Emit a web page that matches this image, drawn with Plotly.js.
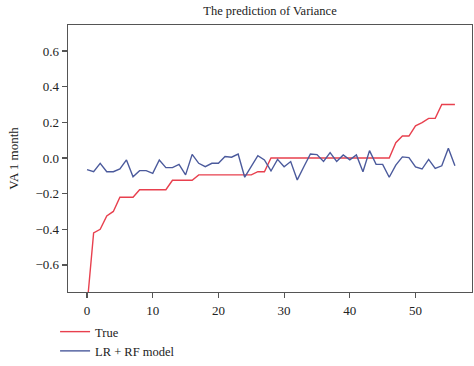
<!DOCTYPE html>
<html>
<head>
<meta charset="utf-8">
<script src="https://cdn.plot.ly/plotly-3.0.1.min.js"></script>
<style>html,body{margin:0;padding:0;background:#fff;}#chart{width:474px;height:366px;}</style>
</head>
<body>
<div id="chart"></div>
<script>
const xIndex = Array.from({length: 57}, (_, i) => i);
const trueValues = [
  -0.83, -0.42, -0.40, -0.325, -0.30, -0.22, -0.22, -0.22, -0.178, -0.178,
  -0.178, -0.178, -0.178, -0.125, -0.125, -0.125, -0.125, -0.095, -0.095, -0.095,
  -0.095, -0.095, -0.095, -0.095, -0.095, -0.095, -0.077, -0.077, 0, 0,
  0, 0, 0, 0, 0, 0, 0, 0, 0, 0,
  0, 0, 0, 0, 0, 0, 0, 0.086, 0.123, 0.123,
  0.18, 0.198, 0.222, 0.222, 0.30, 0.30, 0.30
];
const modelValues = [
  -0.065, -0.077, -0.03, -0.077, -0.077, -0.062, -0.011, -0.105, -0.071, -0.071,
  -0.086, -0.011, -0.054, -0.054, -0.036, -0.095, 0.02, -0.03, -0.049, -0.03,
  -0.03, 0.008, 0.004, 0.022, -0.108, -0.049, 0.013, -0.011, -0.073, -0.008,
  -0.049, -0.02, -0.123, -0.049, 0.022, 0.019, -0.02, 0.03, -0.02, 0.017,
  -0.011, 0.017, -0.077, 0.041, -0.036, -0.036, -0.108, -0.04, 0.006, 0.002,
  -0.05, -0.062, -0.008, -0.058, -0.044, 0.054, -0.044
];
const seriesNames = ['True', 'LR + RF model'];
const xTicks = [0, 10, 20, 30, 40, 50];
const yTicks = [-0.6, -0.4, -0.2, 0.0, 0.2, 0.4, 0.6];
const yTickLabels = ['\u22120.6', '\u22120.4', '\u22120.2', '0.0', '0.2', '0.4', '0.6'];

const font = 'Liberation Serif, DejaVu Serif, serif';
const traces = [
  {x: xIndex, y: trueValues, name: seriesNames[0], mode: 'lines', type: 'scatter',
   line: {color: '#e8404e', width: 1.4}},
  {x: xIndex, y: modelValues, name: seriesNames[1], mode: 'lines', type: 'scatter',
   line: {color: '#4b5a9c', width: 1.4}}
];
const axisCommon = {
  showgrid: false, zeroline: false, showline: true, mirror: true,
  linecolor: '#555', linewidth: 1.3, ticks: 'outside', ticklen: 5,
  tickcolor: '#555', tickwidth: 1.2,
  tickfont: {family: font, size: 13, color: '#222'}
};
const layout = {
  width: 474, height: 366,
  margin: {l: 68, r: 2, t: 25, b: 74},
  paper_bgcolor: '#fff', plot_bgcolor: '#fff',
  font: {family: font, color: '#222'},
  title: {text: 'The prediction of Variance', font: {family: font, size: 12.5, color: '#222'},
          x: 0.5, xref: 'paper', y: 0.972, yanchor: 'middle'},
  xaxis: Object.assign({}, axisCommon, {range: [-2.9, 58.6], tickvals: xTicks, ticklabelstandoff: 1}),
  yaxis: Object.assign({}, axisCommon, {range: [-0.752, 0.746], tickvals: yTicks, ticktext: yTickLabels,
          ticklabelstandoff: 0,
          title: {text: 'VA 1 month', font: {family: font, size: 13, color: '#222'}, standoff: 14}}),
  showlegend: true,
  legend: {x: -0.032, xanchor: 'left', yref: 'container', y: 0.0, yanchor: 'bottom', orientation: 'v',
           font: {family: font, size: 12.5, color: '#222'}, bgcolor: 'rgba(0,0,0,0)',
           tracegroupgap: 0}
};
Plotly.newPlot('chart', traces, layout, {displayModeBar: false, staticPlot: true});
</script>
</body>
</html>
